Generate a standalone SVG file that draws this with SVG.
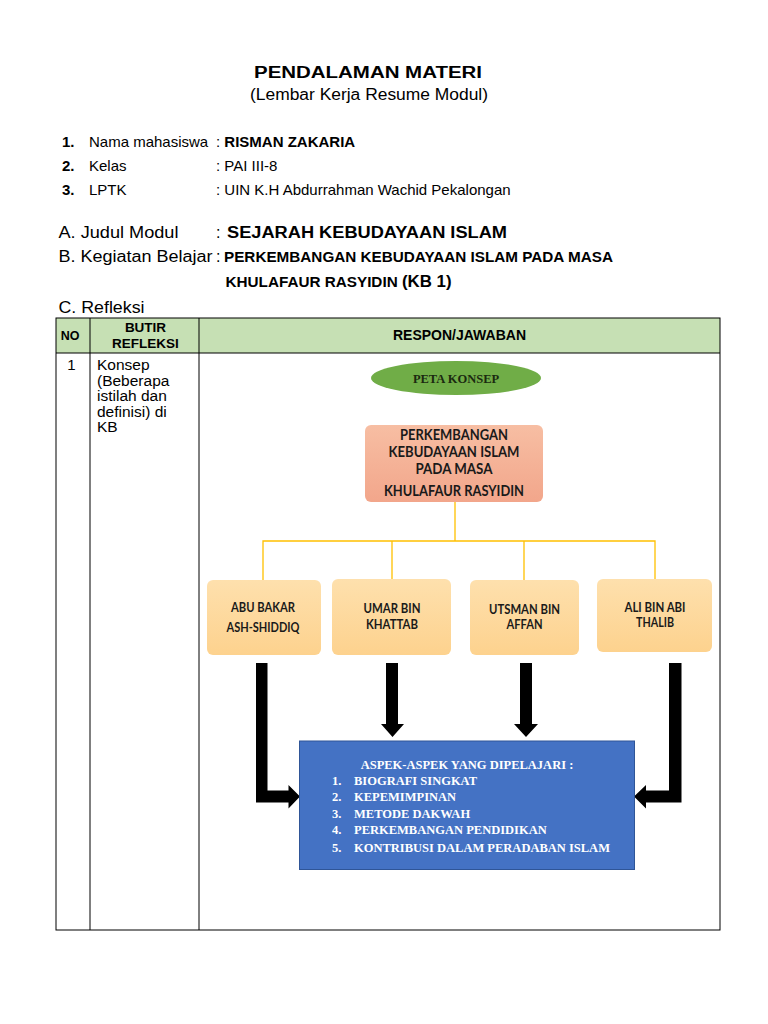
<svg xmlns="http://www.w3.org/2000/svg" width="768" height="1024" viewBox="0 0 768 1024">
<defs>
<style>
.sans{font-family:"Liberation Sans",Arial,sans-serif;fill:#000}
.b{font-weight:bold}
.cal{font-family:Lato,"Liberation Sans",sans-serif;font-weight:bold;fill:#1a1a1a;text-anchor:middle}
.ser{font-family:"Liberation Serif","Times New Roman",serif;font-weight:bold}
.grid{stroke:#000;stroke-width:1;fill:none}
.conn{stroke:#ffc000;stroke-width:1.3;fill:none}
.arrow{fill:#000}
.kh{fill:url(#gOrange)}
</style>
<linearGradient id="gSalmon" x1="0" y1="0" x2="0" y2="1">
<stop offset="0" stop-color="#f7bea3"/><stop offset="1" stop-color="#f2a68b"/>
</linearGradient>
<linearGradient id="gOrange" x1="0" y1="0" x2="0" y2="1">
<stop offset="0" stop-color="#fee0ad"/><stop offset="1" stop-color="#fdd28e"/>
</linearGradient>
</defs>
<rect width="768" height="1024" fill="#fff"/>

<g id="header">
<text class="sans b" x="254" y="78" font-size="16" textLength="228" lengthAdjust="spacingAndGlyphs">PENDALAMAN MATERI</text>
<text class="sans" x="250" y="100" font-size="16" textLength="238" lengthAdjust="spacingAndGlyphs">(Lembar Kerja Resume Modul)</text>
<text class="sans b" x="62" y="147" font-size="15">1.</text>
<text class="sans" x="89" y="147" font-size="15">Nama mahasiswa</text>
<text class="sans" x="216" y="147" font-size="15">: <tspan font-weight="bold">RISMAN ZAKARIA</tspan></text>
<text class="sans b" x="62" y="171" font-size="15">2.</text>
<text class="sans" x="89" y="171" font-size="15">Kelas</text>
<text class="sans" x="216" y="171" font-size="15">: PAI III-8</text>
<text class="sans b" x="62" y="195" font-size="15">3.</text>
<text class="sans" x="89" y="195" font-size="15">LPTK</text>
<text class="sans" x="216" y="195" font-size="15">: UIN K.H Abdurrahman Wachid Pekalongan</text>
<text class="sans" x="58.5" y="237.5" font-size="16" textLength="120" lengthAdjust="spacingAndGlyphs">A. Judul Modul</text>
<text class="sans" x="216" y="237.5" font-size="16">:</text>
<text class="sans b" x="227" y="237.5" font-size="16" textLength="280" lengthAdjust="spacingAndGlyphs">SEJARAH KEBUDAYAAN ISLAM</text>
<text class="sans" x="58.5" y="262" font-size="16" textLength="154" lengthAdjust="spacingAndGlyphs">B.  Kegiatan Belajar</text>
<text class="sans" x="216" y="262" font-size="16">:</text>
<text class="sans b" x="224" y="262" font-size="14.5" textLength="389" lengthAdjust="spacingAndGlyphs">PERKEMBANGAN KEBUDAYAAN ISLAM PADA MASA</text>
<text class="sans b" x="225.5" y="287" font-size="14.5" textLength="226" lengthAdjust="spacingAndGlyphs">KHULAFAUR RASYIDIN <tspan font-size="16">(KB 1)</tspan></text>
<text class="sans" x="58.5" y="312.5" font-size="16" textLength="86" lengthAdjust="spacingAndGlyphs">C.  Refleksi</text>
</g>

<g id="table">
<rect x="56" y="318" width="664" height="35" fill="#c6e0b4"/>
<rect x="56" y="318" width="664" height="612" class="grid"/>
<line x1="56" y1="353" x2="720" y2="353" class="grid"/>
<line x1="90" y1="318" x2="90" y2="930" class="grid"/>
<line x1="199" y1="318" x2="199" y2="930" class="grid"/>
<text class="sans b" x="70" y="340" font-size="12.5" text-anchor="middle">NO</text>
<text class="sans b" x="145.5" y="331.5" font-size="13.5" text-anchor="middle">BUTIR</text>
<text class="sans b" x="145.5" y="348" font-size="13.5" text-anchor="middle">REFLEKSI</text>
<text class="sans b" x="459.5" y="340" font-size="14" text-anchor="middle">RESPON/JAWABAN</text>
<text class="sans" x="71.5" y="370" font-size="15" text-anchor="middle">1</text>
<text class="sans" font-size="15.5"><tspan x="97" y="370">Konsep</tspan><tspan x="97" y="385.5">(Beberapa</tspan><tspan x="97" y="401">istilah dan</tspan><tspan x="97" y="416.5">definisi) di</tspan><tspan x="97" y="432">KB</tspan></text>
</g>

<g id="peta-konsep">
<ellipse cx="456" cy="378" rx="85" ry="17" fill="#70ad47"/>
<text class="ser" x="456" y="382.5" font-size="12.5" fill="#1b2a10" text-anchor="middle">PETA KONSEP</text>
</g>

<g id="central">
<rect x="365" y="425" width="178" height="77" rx="6" fill="url(#gSalmon)"/>
<g class="cal" font-size="14.5">
<text x="454" y="440" textLength="108" lengthAdjust="spacingAndGlyphs">PERKEMBANGAN</text>
<text x="454" y="457" textLength="131" lengthAdjust="spacingAndGlyphs">KEBUDAYAAN ISLAM</text>
<text x="454" y="474" textLength="77" lengthAdjust="spacingAndGlyphs">PADA MASA</text>
<text x="454" y="496" textLength="140" lengthAdjust="spacingAndGlyphs">KHULAFAUR RASYIDIN</text>
</g>
</g>

<g id="connectors">
<path class="conn" d="M455 502V541M263 580V541H655V580M392 541V580M524 541V580"/>
<path class="arrow" d="M256 663H267.5V790.5H288.5V785L300 796.5L288.5 808.5V802.5H256Z"/>
<path class="arrow" d="M386 663H398V724H404L392.5 737L381 724H386Z"/>
<path class="arrow" d="M520 663H532V724H538L526 737L514 724H520Z"/>
<path class="arrow" d="M669 663H681.5V802.5H646V808.5L634 796.5L646 785V790.5H669Z"/>
</g>

<g id="abu-bakar">
<rect x="207" y="580" width="114" height="75" rx="6" class="kh"/>
<text class="cal" font-size="13" x="263" y="612" textLength="64" lengthAdjust="spacingAndGlyphs">ABU BAKAR</text>
<text class="cal" font-size="13" x="263" y="631.5" textLength="73" lengthAdjust="spacingAndGlyphs">ASH-SHIDDIQ</text>
</g>
<g id="umar">
<rect x="332" y="579" width="119" height="76" rx="6" class="kh"/>
<text class="cal" font-size="13" x="392" y="613" textLength="57" lengthAdjust="spacingAndGlyphs">UMAR BIN</text>
<text class="cal" font-size="13" x="392" y="628.5" textLength="52" lengthAdjust="spacingAndGlyphs">KHATTAB</text>
</g>
<g id="utsman">
<rect x="470" y="580" width="109" height="75" rx="6" class="kh"/>
<text class="cal" font-size="13" x="524.5" y="614" textLength="71" lengthAdjust="spacingAndGlyphs">UTSMAN BIN</text>
<text class="cal" font-size="13" x="524.5" y="628.5" textLength="36" lengthAdjust="spacingAndGlyphs">AFFAN</text>
</g>
<g id="ali">
<rect x="597" y="579" width="115" height="73" rx="6" class="kh"/>
<text class="cal" font-size="13" x="655" y="612" textLength="61" lengthAdjust="spacingAndGlyphs">ALI BIN ABI</text>
<text class="cal" font-size="13" x="655" y="627" textLength="38" lengthAdjust="spacingAndGlyphs">THALIB</text>
</g>

<g id="aspek">
<rect x="299.5" y="741" width="335" height="128.5" fill="#4472c4" stroke="#2f5597" stroke-width="1"/>
<text class="ser" fill="#fff" font-size="12.5" x="467" y="768.5" text-anchor="middle">ASPEK-ASPEK YANG DIPELAJARI :</text>
<g class="ser" fill="#fff" font-size="12.5">
<text x="332" y="784.5">1.</text><text x="354" y="784.5">BIOGRAFI SINGKAT</text>
<text x="332" y="801">2.</text><text x="354" y="801">KEPEMIMPINAN</text>
<text x="332" y="817.5">3.</text><text x="354" y="817.5">METODE DAKWAH</text>
<text x="332" y="834">4.</text><text x="354" y="834">PERKEMBANGAN PENDIDIKAN</text>
<text x="332" y="851.5">5.</text><text x="354" y="851.5">KONTRIBUSI DALAM PERADABAN ISLAM</text>
</g>
</g>
</svg>
